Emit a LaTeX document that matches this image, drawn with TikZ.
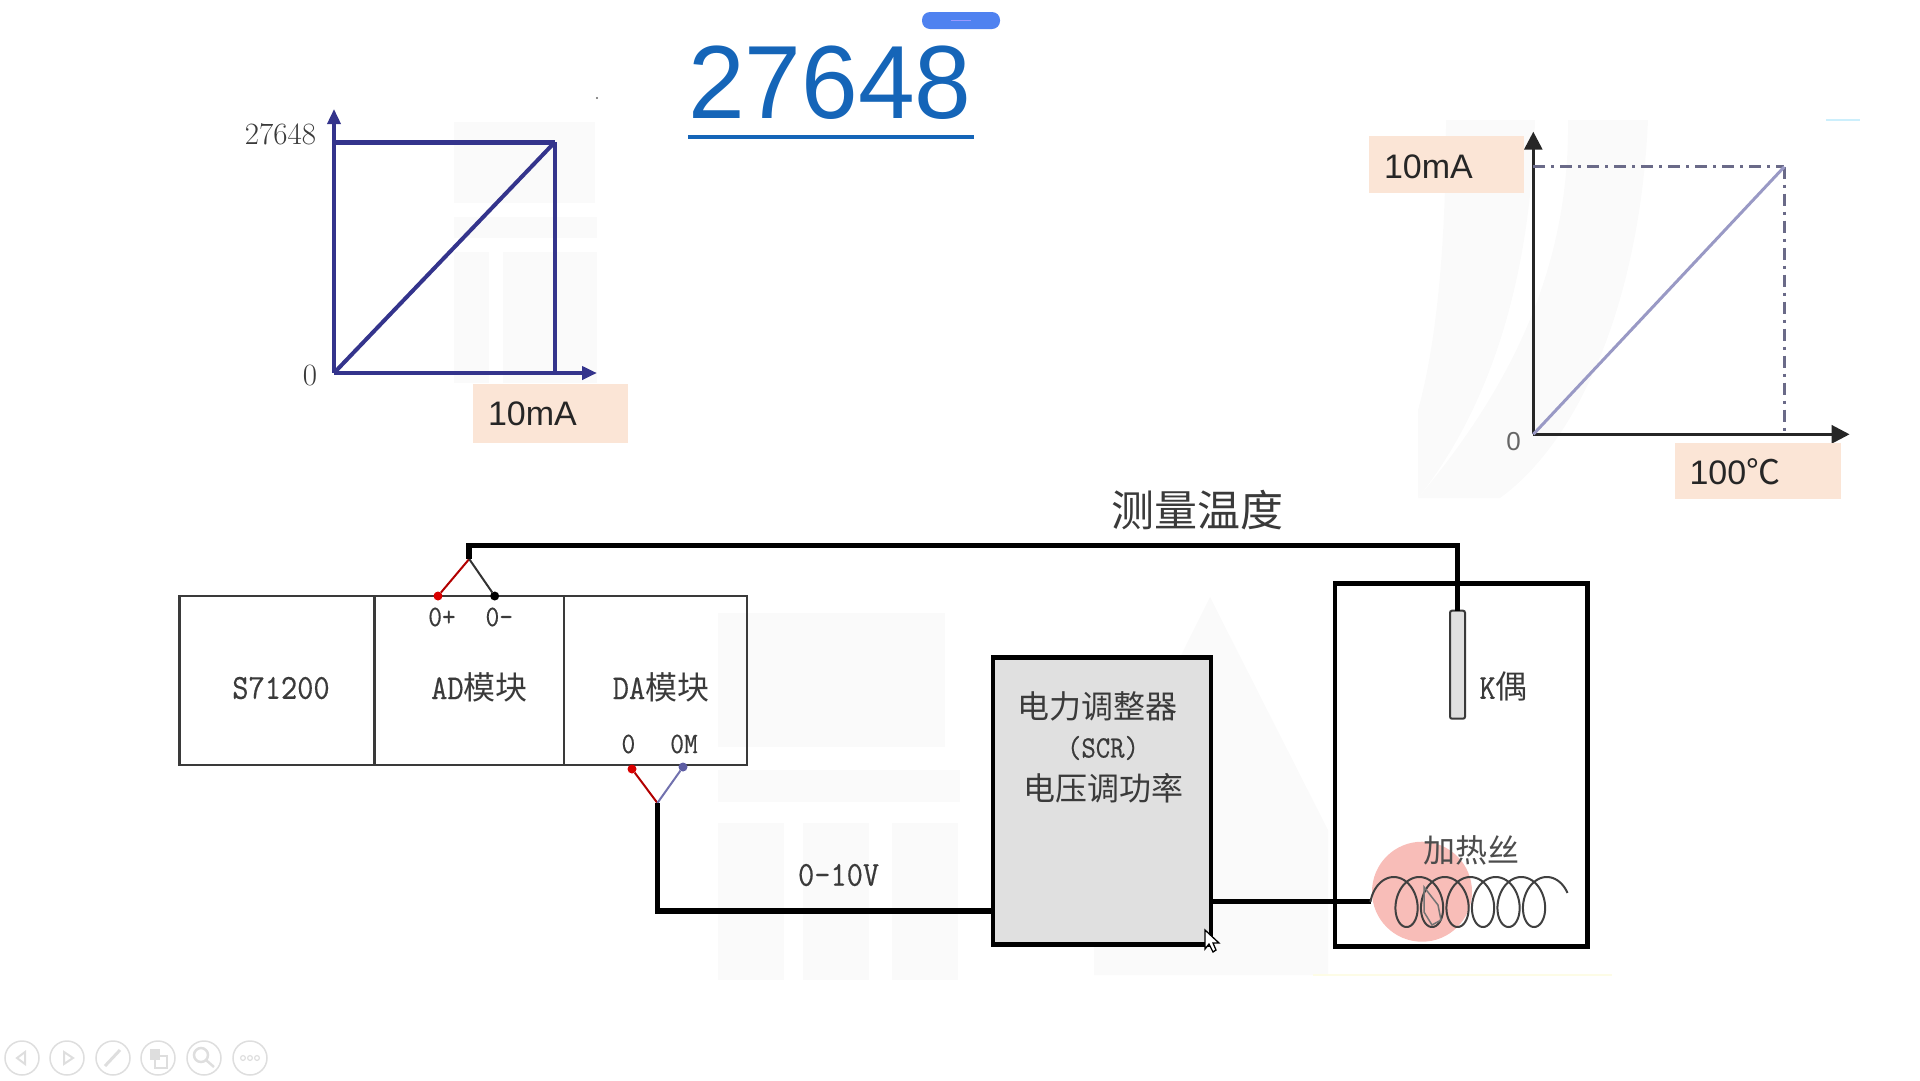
\documentclass[tikz,border=0pt]{standalone}
\usepackage{fontspec}
\usepackage{tikz}
\usetikzlibrary{arrows.meta}
\newfontfamily\cjk{Noto Sans CJK SC}
\newfontfamily\lab{Liberation Sans}
\newfontfamily\numfont[FakeStretch=0.98]{Liberation Sans}
\newfontfamily\mono[FakeStretch=0.9,FakeBold=0.5]{Latin Modern Mono}
\newcommand{\hz}[1]{{\cjk\fontsize{32}{36}\selectfont #1}}
\definecolor{navy}{HTML}{34348C}
\definecolor{numblue}{HTML}{1565B8}
\definecolor{peach}{HTML}{FBE5D6}
\definecolor{water}{HTML}{FAFAFA}
\definecolor{ink}{HTML}{3A3A3A}
\definecolor{tool}{HTML}{DEDEDE}
\definecolor{dotline}{HTML}{6A6A88}
\definecolor{spot}{HTML}{F8BDB8}
\definecolor{pillblue}{HTML}{4F82F0}
\tikzset{
  every node/.style={inner sep=0pt, outer sep=0pt},
  modbox/.style={draw=ink, line width=2.2pt, minimum height=169.3pt},
  greybox/.style={draw=black, line width=4.5pt, fill=black!12},
  heatbox/.style={draw=black, line width=4.5pt},
  wire/.style={draw=black, line width=5.5pt},
  tag/.style={fill=peach, minimum width=155pt, minimum height=57pt},
  tagtext/.style={font=\lab\fontsize{34}{38}\selectfont, text=black!85},
  tinytext/.style={font=\mono\fontsize{29.6}{32}\selectfont, text=ink},
  modtext/.style={font=\mono\fontsize{35}{38}\selectfont, text=ink},
  cjktext/.style={font=\cjk\fontsize{32}{36}\selectfont, text=ink},
  plotnum/.style={font=\fontsize{31}{33}\selectfont, text=ink},
  pin/.style={circle, minimum size=9pt},
  navyline/.style={draw=navy, line width=3.5pt},
  navyaxis/.style={draw=navy, line width=3.5pt, -{Triangle[length=15pt,width=13pt]}},
  blackaxis/.style={draw=black!85, line width=3pt, -{Triangle[length=18pt,width=18pt]}},
  dashdot/.style={draw=dotline, line width=2.5pt, dash pattern=on 12pt off 6pt on 3pt off 6pt},
}
\begin{document}
\begin{tikzpicture}[x=1pt,y=-1pt]
\useasboundingbox (0,0) rectangle (1920,1080);

% faint marks behind the slide
\fill[water] (454,122) rectangle (595,203);
\fill[water] (454,217) rectangle (597,238);
\fill[water] (454,252) rectangle (489,383);
\fill[water] (503,252) rectangle (597,383);
\fill[water] (1446,120) -- (1535,120) .. controls (1530,300) and (1480,420) .. (1418,498) -- (1418,410) .. controls (1440,330) and (1446,220) .. cycle;
\fill[water] (1568,120) -- (1648,120) .. controls (1640,300) and (1580,440) .. (1500,498) -- (1418,498) .. controls (1500,400) and (1570,280) .. cycle;
\fill[water] (718,613) rectangle (945,747);
\fill[water] (718,770) rectangle (960,802);
\foreach \x in {718,803,892}
  \fill[water] (\x,823) rectangle (\x+66,980);
\fill[water] (1094,975) -- (1094,830) -- (1210,597) -- (1328,830) -- (1328,975) -- cycle;
\draw[black!8!yellow!10, line width=2pt] (1313,975) -- (1612,975);

% top number
\node[font=\numfont\fontsize{104}{112}\selectfont, text=numblue] (topnum) at (830,83) {27648};
\coordinate (uleft) at (688,137);
\coordinate (uright) at (974,137);
\draw[numblue, line width=4.5pt] (uleft) -- (uright);
\node[fill=pillblue, minimum width=78pt, minimum height=17pt, rounded corners=8pt] (pill) at (961,20.5) {};
\draw[white!60!blue, line width=1pt] (951,20.5) -- (971,20.5);
\fill[black!60] (597,98) circle (1.2pt);

% left plot
\coordinate (lo) at (334,373);
\coordinate (ltl) at (334,142);
\coordinate (ltr) at (555,142);
\coordinate (lbr) at (555,373);
\coordinate (lytip) at (334,109);
\coordinate (lxtip) at (597,373);
\draw[navyaxis] (lo) -- (lytip);
\draw[navyaxis, line width=4.5pt] (lo) -- (lxtip);
\draw[navyline, line width=5pt] (ltl) -- (ltr);
\draw[navyline] (ltr) -- (lbr);
\draw[navyline, line width=4pt] (lo) -- (ltr);
\node[plotnum, anchor=east] (lmax) at (316,134) {27648};
\node[plotnum, anchor=east] (lzero) at (317,375) {0};
\node[tag, minimum width=154.6pt, minimum height=58.7pt] (ltag) at (550.3,413.4) {};
\node[tagtext, anchor=west] (ltagtext) at (488,414) {10mA};

% right plot
\coordinate (ro) at (1533.3,434.3);
\coordinate (rtip) at (1784.4,166.7);
\coordinate (ryend) at (1533.3,166.7);
\coordinate (rxend) at (1784.4,434.3);
\coordinate (rytip) at (1533.3,131.7);
\coordinate (rxtip) at (1849.6,434.3);
\draw[blackaxis] (ro) -- (rytip);
\draw[blackaxis] (ro) -- (rxtip);
\draw[dashdot] (ryend) -- (rtip);
\draw[dashdot] (rtip) -- (rxend);
\draw[draw=navy!50, line width=3pt] (ro) -- (rtip);
\node[tag] (rtag) at (1446.3,164.7) {};
\node[tagtext, anchor=west] (rtagtext) at (1384,166.7) {10mA};
\node[tag, minimum width=165.7pt, minimum height=56pt] (xtag) at (1757.7,471.3) {};
\node[tagtext, anchor=west] (xtagtext) at (1689.5,472) {100{\cjk ℃}};
\node[font=\lab\fontsize{26}{30}\selectfont, text=black!60] (rzero) at (1513.5,441.7) {0};
\draw[cyan!20, line width=2pt] (1826,120) -- (1860,120);

% module row
\node[modbox, minimum width=195pt] (s7box) at (277,680.4) {};
\node[modbox, minimum width=190pt] (adbox) at (469,680.4) {};
\node[modbox, minimum width=183pt] (dabox) at (655.5,680.4) {};
\node[modtext] (s7text) at (281,688) {S71200};
\node[modtext] (adtext) at (479.4,687) {AD\hz{模块}};
\node[modtext] (datext) at (661,687) {DA\hz{模块}};
\node[tinytext] (aplus) at (442,617) {0+};
\node[tinytext] (aminus) at (499.3,617) {0-};
\node[tinytext] (dazero) at (628.4,744) {0};
\node[tinytext] (dacom) at (684,744) {0M};
\node[pin, fill=red!85!black] (adpin1) at (438,596) {};
\node[pin, fill=black] (adpin2) at (494.7,596) {};
\node[pin, fill=red!85!black] (dapin1) at (632,769) {};
\node[pin, fill=navy!80] (dapin2) at (683,767) {};
\coordinate (adjoin) at (469.2,559);
\coordinate (dajoin) at (657.4,803);
\draw[red!70!black, line width=2pt] (adpin1) -- (adjoin);
\draw[black!80, line width=2pt] (adpin2) -- (adjoin);
\draw[red!70!black, line width=2pt] (dapin1) -- (dajoin);
\draw[navy!70, line width=2pt] (dapin2) -- (dajoin);

% regulator and furnace
\node[greybox, minimum width=218pt, minimum height=287pt] (scr) at (1102,801) {};
\node[heatbox, minimum width=252.5pt, minimum height=362.7pt] (oven) at (1461,765) {};
\node[draw=ink, line width=2pt, fill=black!12, rounded corners=2pt, minimum width=15pt, minimum height=108pt] (kprobe) at (1457.5,664.7) {};
\coordinate (wtop) at (1457.5,545.7);
\coordinate (scrin) at (993,911);
\coordinate (scrout) at (1211.5,901.7);
\coordinate (coilin) at (1371,901.7);
\draw[wire] (adjoin) |- (wtop) -- (kprobe.north);
\draw[wire] (dajoin) |- (scrin);
\draw[wire] (scrout) -- (coilin);

\node[font=\cjk\fontsize{43}{46}\selectfont, text=ink] (meas) at (1197,510) {测量温度};
\node[modtext] (vtext) at (838.6,875) {0-10V};
\node[cjktext] (scr1) at (1097,706.7) {电力调整器};
\node[modtext, font=\mono\fontsize{31}{34}\selectfont] (scr2) at (1103,748) {(SCR)};
\node[cjktext] (scr3) at (1103,788) {电压调功率};
\node[modtext] (ktext) at (1503.6,686.7) {K\hz{偶}};

% coil with the pointer spot
\fill[spot] (1422,891.7) circle (50pt);
\node[cjktext, text=black!70] (heat) at (1471,850) {加热丝};
\draw[black!75, line width=2pt, smooth] plot[domain=-1.57:38.9, samples=400]
  ({1393.8+25.5*\x/6.2832+17*sin(\x r)}, {902-25*cos(\x r)});
\draw[black!55, line width=1.5pt] (1424,887) -- (1424,912) -- (1432,925) -- (1441,920) -- (1438,905) -- cycle;
\draw[black, fill=white, line width=1.3pt] (1205,930) -- (1205,949) -- (1209,944) -- (1213,952) -- (1216,950) -- (1213,943) -- (1219,943) -- cycle;

% slide toolbar
\foreach \x in {22,67,113,158,204,250}
  \draw[tool, line width=1.5pt] (\x,1058) circle (17pt);
\draw[tool, line width=2pt] (25,1052) -- (17,1058) -- (25,1064) -- cycle;
\draw[tool, line width=2pt] (64,1052) -- (73,1058) -- (64,1064) -- cycle;
\draw[tool, line width=3pt] (105,1066) -- (120,1050);
\fill[tool] (150,1049) rectangle (160,1060);
\draw[tool, line width=2.5pt] (155,1056) rectangle (167,1068);
\draw[tool, line width=2.5pt] (201,1055) circle (7pt) (206,1060) -- (214,1067);
\foreach \x in {243,250,257}
  \draw[tool, line width=1.2pt] (\x,1058) circle (2.4pt);
\end{tikzpicture}
\end{document}
